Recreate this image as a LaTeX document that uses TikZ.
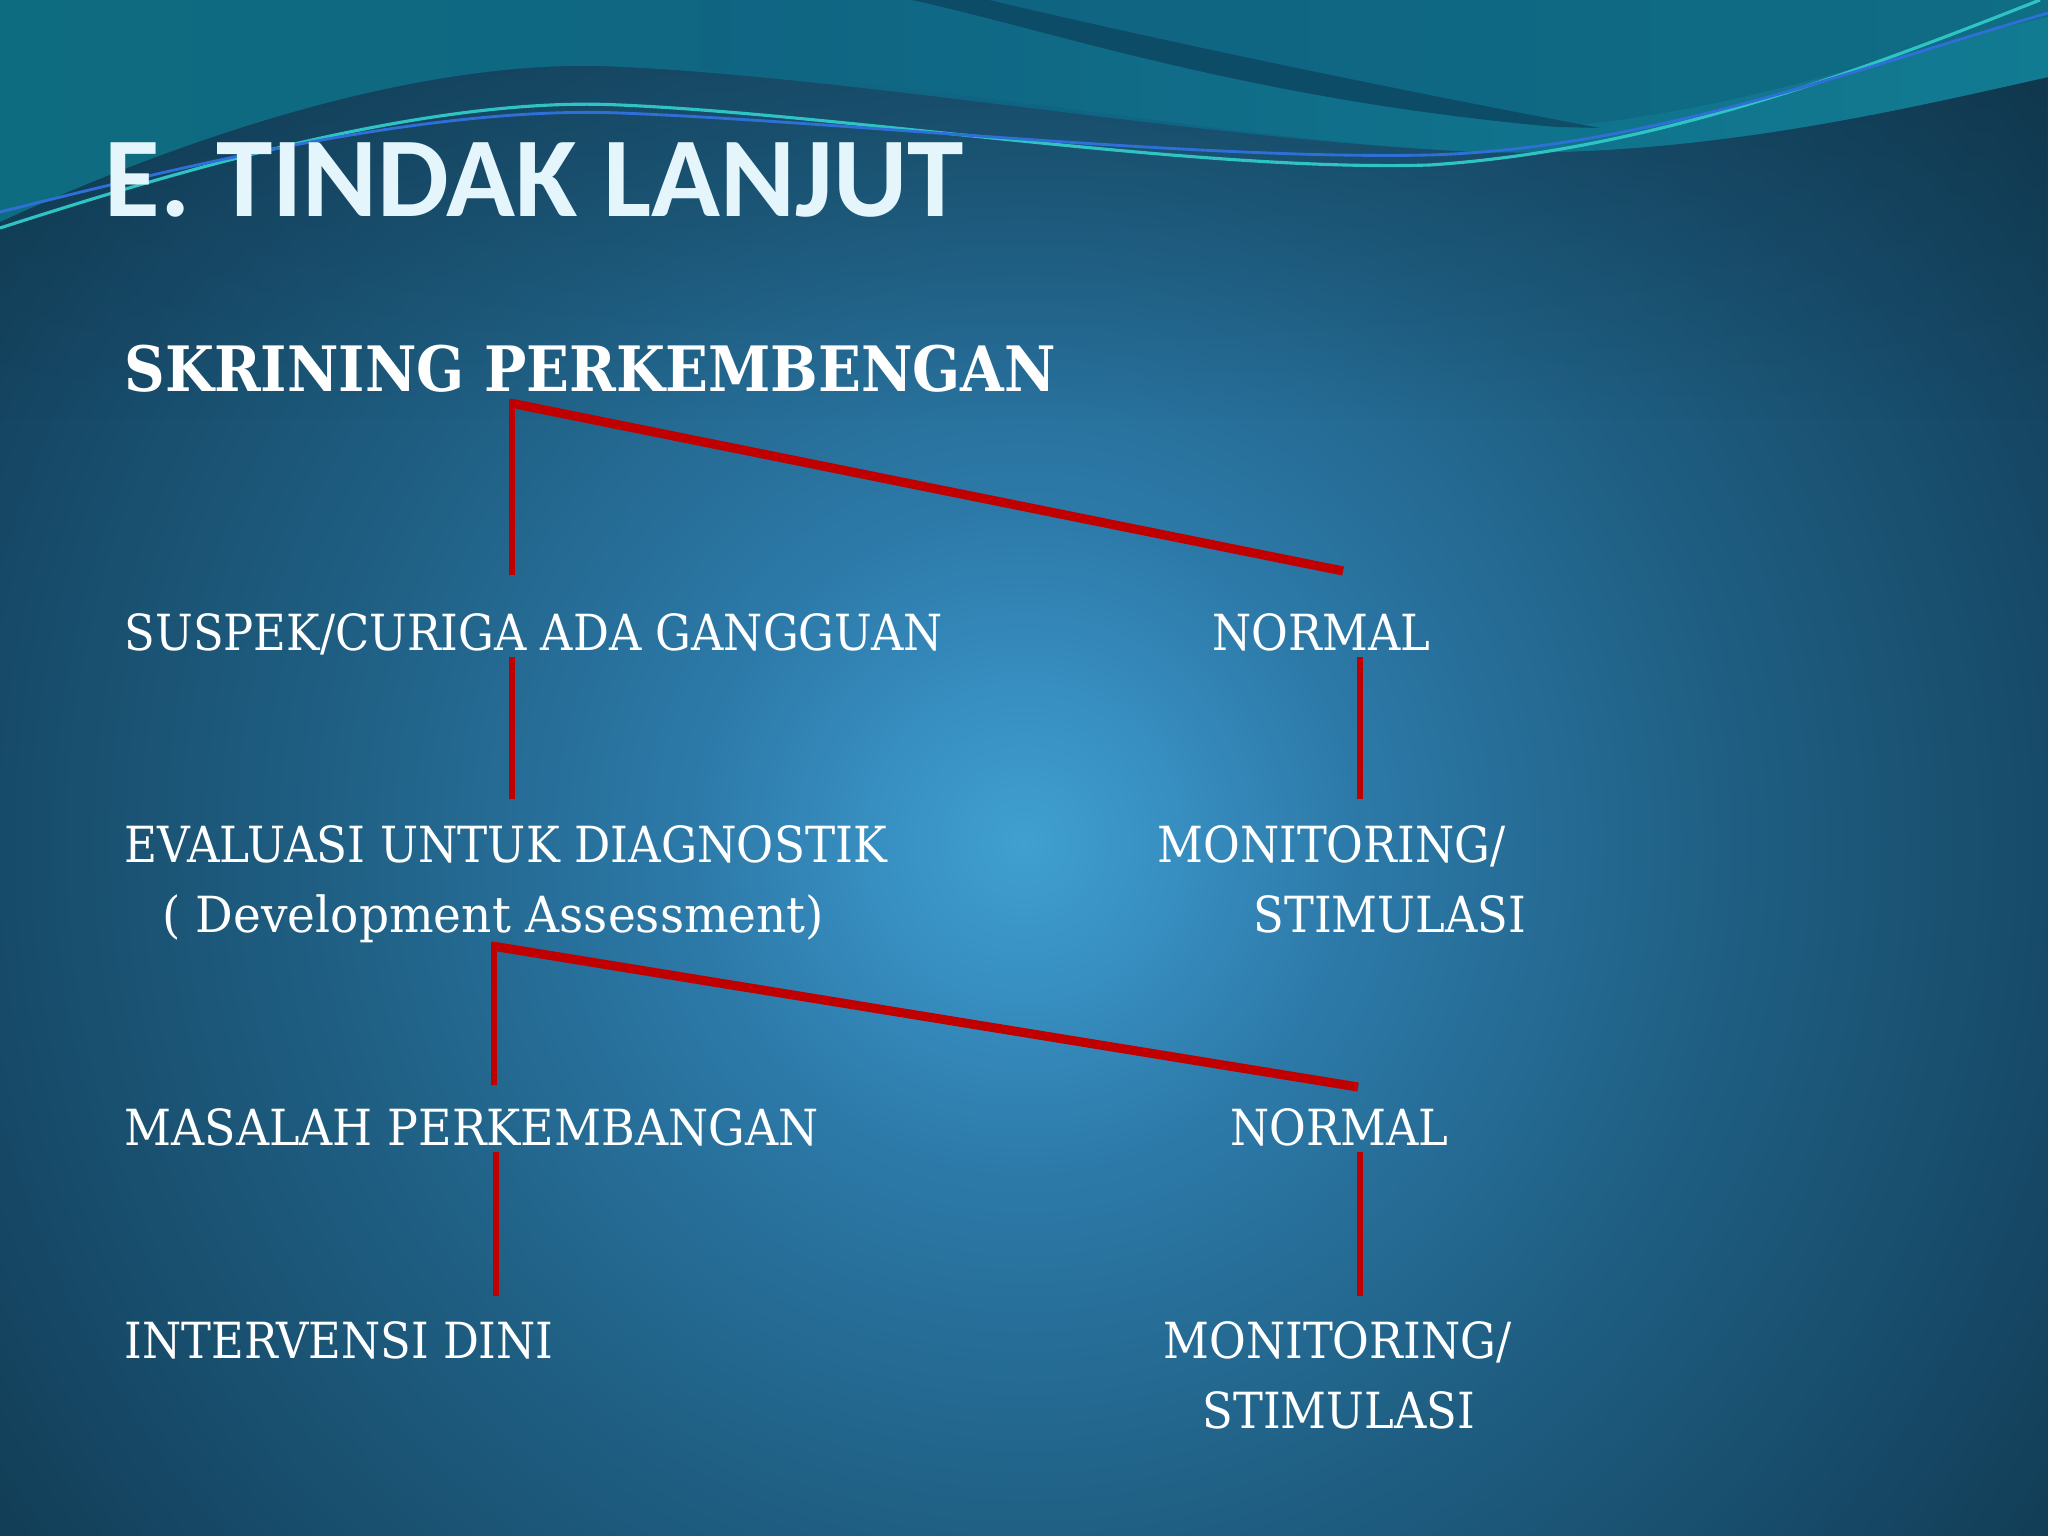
\documentclass[tikz,border=0pt]{standalone}
\usepackage{fontspec}
\usepackage{graphicx}
\usetikzlibrary{fadings}
\setmainfont{DejaVu Serif}[FakeStretch=0.9]
\newfontfamily\titlefont{Carlito}
\definecolor{bgA}{HTML}{40A0D0}
\definecolor{bgB}{HTML}{3890C2}
\definecolor{bgC}{HTML}{2C79A8}
\definecolor{bgD}{HTML}{1F5F83}
\definecolor{bgE}{HTML}{164866}
\definecolor{bgF}{HTML}{0E3346}
\definecolor{tealL}{HTML}{0E6C80}
\definecolor{tealM}{HTML}{0F6482}
\definecolor{tealR}{HTML}{0F6D84}
\definecolor{bandc}{HTML}{117B92}
\definecolor{stripec}{HTML}{0D4A63}
\definecolor{cyanl}{HTML}{2EC4C4}
\definecolor{bluel}{HTML}{2F6FD8}
\definecolor{titlec}{HTML}{E4F6FB}
\definecolor{redl}{HTML}{C00000}
\pgfdeclareradialshading{bgrad}{\pgfpoint{0bp}{0bp}}{color(0bp)=(bgA); color(2.5bp)=(bgB); color(6bp)=(bgC); color(12.5bp)=(bgD); color(19bp)=(bgE); color(25bp)=(bgF); color(50bp)=(bgF)}
\tikzset{
  lbl/.style={anchor=base west, inner sep=0pt, text=white, font=\fontsize{17.5}{21}\selectfont},
  hdr/.style={anchor=base west, inner sep=0pt, text=white, font=\bfseries\fontsize{22}{27}\selectfont},
  ttl/.style={anchor=base west, inner sep=0pt, text=titlec, font=\titlefont\bfseries\fontsize{40}{48}\selectfont},
  redv/.style={draw=redl, line width=2.3pt},
  redd/.style={draw=redl, line width=3.2pt},
}
\begin{document}
\begin{tikzpicture}[x=0.3515625pt, y=-0.3515625pt]
\useasboundingbox (0,0) rectangle (2048,1536);
\begin{scope}
  \clip (0,0) rectangle (2048,1536);
  \shade[shading=bgrad] (1023,842) circle (1400);
  % darker top under the hill
  \fill[bgF, opacity=0.45, path fading=south] (0,0) rectangle (2048,420);
  % top teal region above the hill
  \shade[left color=tealL, right color=tealR, middle color=tealM]
    (0,0) -- (2048,0) -- (2048,77)
    .. controls (1900,110) and (1700,158) .. (1480,152)
    .. controls (1200,140) and (850,75) .. (600,66)
    .. controls (420,62) and (200,130) .. (0,222) -- cycle;
  % lighter band under the stripe
  \shade[left color=tealM, right color=bandc] (700,0) -- (912,0)
    .. controls (1050,30) and (1250,100) .. (1557,127)
    .. controls (1750,110) and (1900,50) .. (2048,17) -- (2048,77)
    .. controls (1900,110) and (1700,158) .. (1480,152)
    .. controls (1250,142) and (950,85) .. (700,68) -- cycle;
  % dark stripe
  \fill[stripec, opacity=0.9] (912,0) .. controls (1050,30) and (1250,100) .. (1557,127)
    -- (1600,128) .. controls (1450,100) and (1200,50) .. (989,0) -- cycle;
  % curves
  \draw[cyanl, line width=1.1pt] (0,228) .. controls (150,180) and (420,95) .. (620,105)
    .. controls (850,115) and (1200,172) .. (1430,165)
    .. controls (1650,150) and (1850,75) .. (2040,0);
  \draw[bluel, line width=1pt] (0,212) .. controls (150,175) and (420,105) .. (620,113)
    .. controls (850,122) and (1200,160) .. (1430,155)
    .. controls (1650,148) and (1850,70) .. (2048,13);
\end{scope}

% texts
\node[ttl] (title) at (104,217) {E. TINDAK LANJUT};
\node[hdr] (skr) at (124,392) {SKRINING PERKEMBENGAN};
\node[lbl] (susp) at (124,650) {SUSPEK/CURIGA ADA GANGGUAN};
\node[lbl] (norm1) at (1212,650) {NORMAL};
\node[lbl] (eval) at (124,862) {\scalebox{1.01}[1]{EVALUASI UNTUK DIAGNOSTIK}};
\node[lbl] (dev) at (162,932) {\scalebox{1.05}[1]{( Development Assessment)}};
\node[lbl] (mon1) at (1157,862) {MONITORING/};
\node[lbl] (stim1) at (1253,932) {STIMULASI};
\node[lbl] (masal) at (124,1145) {\scalebox{1.025}[1]{MASALAH PERKEMBANGAN}};
\node[lbl] (norm2) at (1230,1145) {NORMAL};
\node[lbl] (interv) at (124,1358) {INTERVENSI DINI};
\node[lbl] (mon2) at (1163,1358) {MONITORING/};
\node[lbl] (stim2) at (1202,1428) {STIMULASI};

% connector coordinates
\coordinate (a1) at (512,399);
\coordinate (a1d) at (510,403);
\coordinate (a2) at (512,575);
\coordinate (a3) at (1343,571);
\coordinate (b1) at (512,657);
\coordinate (b2) at (512,799);
\coordinate (c1) at (1360,657);
\coordinate (c2) at (1360,799);
\coordinate (d1) at (494,942);
\coordinate (d1d) at (492,946);
\coordinate (d2) at (494,1085);
\coordinate (d3) at (1358,1087);
\coordinate (e1) at (496,1152);
\coordinate (e2) at (496,1296);
\coordinate (f1) at (1360,1152);
\coordinate (f2) at (1360,1296);

\draw[redv] (a1) -- (a2);
\draw[redd] (a1d) -- (a3);
\draw[redv] (b1) -- (b2);
\draw[redv] (c1) -- (c2);
\draw[redv] (d1) -- (d2);
\draw[redd] (d1d) -- (d3);
\draw[redv] (e1) -- (e2);
\draw[redv] (f1) -- (f2);
\end{tikzpicture}
\end{document}
